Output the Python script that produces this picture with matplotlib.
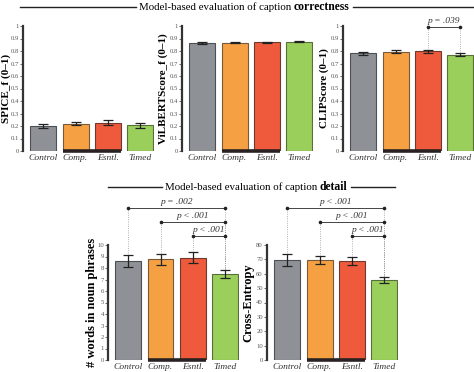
import matplotlib
matplotlib.use("Agg")
import matplotlib.pyplot as plt
import numpy as np

W, H = 474, 372

CONDITIONS = ["Control", "Comp.", "Esntl.", "Timed"]
COLORS = ["#8e9296", "#f5a143", "#ee5a3b", "#9bcf5c"]
EDGES = ["#4d5054", "#7a5a36", "#6e3a2c", "#5a6e3a"]

SPICE = [0.200, 0.220, 0.228, 0.205]
SPICE_ERR = [0.018, 0.015, 0.017, 0.018]
VILBERT = [0.865, 0.868, 0.870, 0.876]
VILBERT_ERR = [0.006, 0.006, 0.006, 0.005]
CLIP = [0.782, 0.795, 0.800, 0.770]
CLIP_ERR = [0.012, 0.013, 0.012, 0.013]
NOUNS = [8.6, 8.75, 8.9, 7.5]
NOUNS_ERR = [0.55, 0.45, 0.5, 0.35]
XENT = [69.5, 69.5, 69.0, 55.5]
XENT_ERR = [4.0, 3.0, 3.0, 2.0]

CLIP_SIG = [(2, 3, "p = .039")]
NOUNS_SIG = [(0, 3, "p = .002"), (1, 3, "p < .001"), (2, 3, "p < .001")]
XENT_SIG = [(0, 3, "p < .001"), (1, 3, "p < .001"), (2, 3, "p < .001")]

plt.rcParams["font.family"] = ["Liberation Serif"]

fig = plt.figure(figsize=(W / 100, H / 100), dpi=100)


def px_axes(x0, y_top, width, y_bot):
    return fig.add_axes([x0 / W, 1 - y_bot / H, width / W, (y_bot - y_top) / H])


def panel(ax, vals, errs, ylabel, ymax, yticks, lab_size, lab_x):
    x = np.arange(len(vals))
    ax.bar(x, vals, width=0.8, color=COLORS, edgecolor=EDGES, linewidth=0.8, zorder=2)
    ax.errorbar(x, vals, yerr=errs, fmt="none", ecolor="#222222", elinewidth=0.9,
                capsize=3.5, capthick=0.9, zorder=3)
    # dark grouping bar under Comp. and Esntl.
    ax.plot([x[1] - 0.4, x[2] + 0.4], [0, 0], color="#2a2222", lw=2.6,
            solid_capstyle="butt", clip_on=False, zorder=4)
    ax.set_xlim(-0.62, 3.42)
    ax.set_ylim(0, ymax)
    ax.set_yticks(yticks)
    for s in ["top", "right", "bottom"]:
        ax.spines[s].set_visible(False)
    ax.spines["left"].set_linewidth(1.6)
    ax.spines["left"].set_color("#333333")
    ax.tick_params(axis="y", length=2, width=0.6, labelsize=4.8, pad=1,
                   labelcolor="#555555", color="#555555")
    ax.set_xticks(x)
    ax.set_xticklabels(CONDITIONS, fontstyle="italic", fontsize=6.8, color="#333333")
    ax.tick_params(axis="x", length=0, pad=2)
    ax.set_ylabel(ylabel, fontsize=lab_size, fontweight="bold")
    ax.yaxis.set_label_coords(lab_x, 0.5)


def brackets(ax, vals, errs, sigs, levels, text_off):
    for (a, b, txt), lvl in zip(sigs, levels):
        ax.plot([a, b], [lvl, lvl], color="#444444", lw=0.7, clip_on=False, zorder=5)
        ax.plot([a, b], [lvl, lvl], "o", color="#222222", ms=1.6, clip_on=False, zorder=5)
        for i in (a, b):
            ax.plot([i, i], [vals[i] + errs[i], lvl], ls=":", color="#999999",
                    lw=0.6, clip_on=False, zorder=1)
        ax.text((a + b) / 2, lvl + text_off, txt, ha="center", va="bottom",
                fontstyle="italic", fontsize=6.8, color="#333333", clip_on=False)


top_ticks = np.round(np.arange(0, 1.01, 0.1), 1)
top_labels = ["0"] + [f"{t:g}" for t in top_ticks[1:]]
ax1 = px_axes(23, 26, 131, 151)
panel(ax1, SPICE, SPICE_ERR, "SPICE_f (0\u20131)", 1, top_ticks, 8.0, -0.095)
ax1.set_yticklabels(top_labels)
ax2 = px_axes(182, 26, 131, 151)
panel(ax2, VILBERT, VILBERT_ERR, "ViLBERTScore_f (0\u20131)", 1, top_ticks, 8.0, -0.105)
ax2.set_yticklabels(top_labels)
ax3 = px_axes(343, 26, 131, 151)
panel(ax3, CLIP, CLIP_ERR, "CLIPScore (0\u20131)", 1, top_ticks, 8.0, -0.105)
ax3.set_yticklabels(top_labels)
brackets(ax3, CLIP, CLIP_ERR, CLIP_SIG, [0.99], 0.015)

ax4 = px_axes(108, 245, 131, 360)
panel(ax4, NOUNS, NOUNS_ERR, "# words in noun phrases", 10, np.arange(0, 11, 1), 9.0, -0.08)
brackets(ax4, NOUNS, NOUNS_ERR, NOUNS_SIG, [13.2, 12.0, 10.8], 0.2)
ax5 = px_axes(267, 245, 131, 360)
panel(ax5, XENT, XENT_ERR, "Cross-Entropy", 80, np.arange(0, 81, 10), 9.0, -0.1)
brackets(ax5, XENT, XENT_ERR, XENT_SIG, [105.7, 96.0, 86.3], 1.6)


def section_title(y, split_x, normal, bold, left, right, gap=3):
    yy = 1 - y / H
    t1 = fig.text(split_x / W, yy, normal, ha="right", va="center", fontsize=7.8)
    t2 = fig.text(split_x / W, yy, bold, ha="left", va="center", fontsize=8.4,
                  fontweight="bold")
    fig.canvas.draw()
    r = fig.canvas.get_renderer()
    b1 = t1.get_window_extent(r)
    b2 = t2.get_window_extent(r)
    fig.add_artist(plt.Line2D([left / W, (b1.x0 - gap) / W], [yy, yy], color="#222222", lw=1.0))
    fig.add_artist(plt.Line2D([(b2.x1 + gap) / W, right / W], [yy, yy], color="#222222", lw=1.0))


section_title(7, 294, "Model-based evaluation of caption ", "correctness", 20, 473)
section_title(187, 320, "Model-based evaluation of caption ", "detail", 108, 395)

fig.savefig("out.png", dpi=100)
